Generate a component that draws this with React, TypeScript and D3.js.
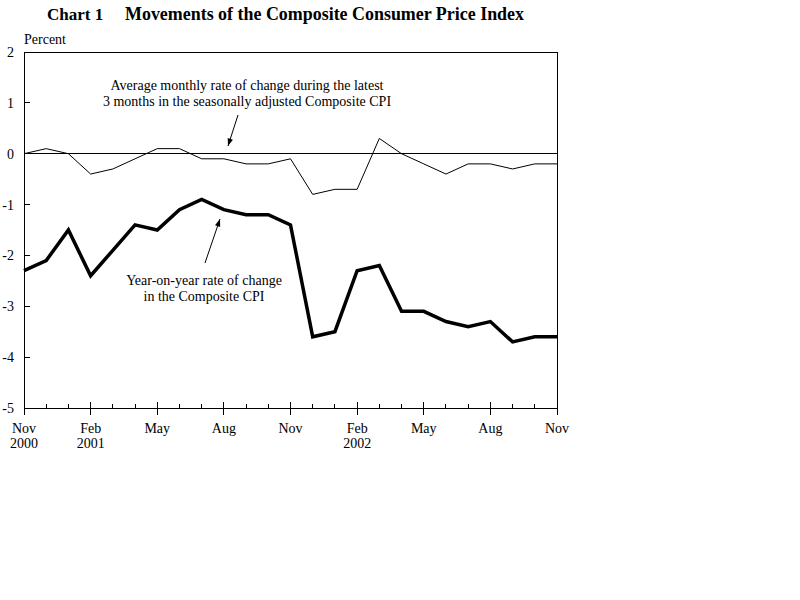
import React, { useEffect, useRef } from "react";
import * as d3 from "d3";

// monthly observations, Nov 2000 .. Nov 2002
const months = [
  "2000-11", "2000-12", "2001-01", "2001-02", "2001-03", "2001-04", "2001-05",
  "2001-06", "2001-07", "2001-08", "2001-09", "2001-10", "2001-11", "2001-12",
  "2002-01", "2002-02", "2002-03", "2002-04", "2002-05", "2002-06", "2002-07",
  "2002-08", "2002-09", "2002-10", "2002-11",
];

// year-on-year rate of change in the Composite CPI
const yoyChange = [
  -2.3, -2.1, -1.5, -2.4, -1.9, -1.4, -1.5, -1.1, -0.9, -1.1, -1.2, -1.2, -1.4,
  -3.6, -3.5, -2.3, -2.2, -3.1, -3.1, -3.3, -3.4, -3.3, -3.7, -3.6, -3.6,
];

// 3-month average monthly rate of change, seasonally adjusted
const avgMonthlyChange = [
  0.0, 0.1, 0.0, -0.4, -0.3, -0.1, 0.1, 0.1, -0.1, -0.1, -0.2, -0.2, -0.1,
  -0.8, -0.7, -0.7, 0.3, 0.0, -0.2, -0.4, -0.2, -0.2, -0.3, -0.2, -0.2,
];

const yTicks = [2, 1, 0, -1, -2, -3, -4, -5];
const xTickLabels = [
  ["Nov", "2000"], ["Feb", "2001"], ["May", ""], ["Aug", ""], ["Nov", ""],
  ["Feb", "2002"], ["May", ""], ["Aug", ""], ["Nov", ""],
];

const FONT = "'Liberation Serif', 'Times New Roman', serif";

export default function App() {
  const ref = useRef<SVGSVGElement>(null);

  useEffect(() => {
    const svg = d3.select(ref.current);
    svg.selectAll("*").remove();

    const left = 24, right = 557, top = 52, bottom = 408;

    const x = d3.scaleLinear().domain([0, months.length - 1]).range([left, right]);
    const y = d3.scaleLinear().domain([-5, 2]).range([bottom, top]);

    const title = svg.append("g")
      .attr("font-family", FONT)
      .attr("font-weight", "bold");
    title.append("text").attr("x", 47).attr("y", 20).attr("font-size", 17)
      .text("Chart 1");
    title.append("text").attr("x", 125).attr("y", 20).attr("font-size", 18)
      .attr("textLength", 399).attr("lengthAdjust", "spacingAndGlyphs")
      .text("Movements of the Composite Consumer Price Index");

    svg.append("text")
      .attr("x", 24)
      .attr("y", 44)
      .attr("font-family", FONT)
      .attr("font-size", 14)
      .text("Percent");

    // frame
    svg.append("rect")
      .attr("x", left)
      .attr("y", top)
      .attr("width", right - left)
      .attr("height", bottom - top)
      .attr("fill", "none")
      .attr("stroke", "#000")
      .attr("shape-rendering", "crispEdges");

    // zero line
    svg.append("line")
      .attr("x1", left)
      .attr("x2", right)
      .attr("y1", y(0))
      .attr("y2", y(0))
      .attr("stroke", "#000")
      .attr("shape-rendering", "crispEdges");

    // y ticks and labels
    const yg = svg.append("g");
    yg.selectAll("line")
      .data(yTicks)
      .join("line")
      .attr("x1", left)
      .attr("x2", left + 6)
      .attr("y1", d => y(d))
      .attr("y2", d => y(d))
      .attr("stroke", "#000")
      .attr("shape-rendering", "crispEdges");
    yg.selectAll("text")
      .data(yTicks)
      .join("text")
      .attr("x", 14)
      .attr("y", d => y(d) + 5)
      .attr("text-anchor", "end")
      .attr("font-family", FONT)
      .attr("font-size", 14)
      .text(d => String(d));

    // x ticks: minor every month, major every quarter
    const xg = svg.append("g");
    xg.selectAll("line")
      .data(months.map((_, i) => i))
      .join("line")
      .attr("x1", i => x(i))
      .attr("x2", i => x(i))
      .attr("y1", i => (i % 3 === 0 ? bottom - 6 : bottom - 4))
      .attr("y2", i => (i % 3 === 0 ? bottom + 7 : bottom))
      .attr("stroke", "#000")
      .attr("shape-rendering", "crispEdges");
    xg.selectAll("text.m")
      .data(xTickLabels)
      .join("text")
      .attr("class", "m")
      .attr("x", (_, i) => x(i * 3))
      .attr("y", bottom + 25)
      .attr("text-anchor", "middle")
      .attr("font-family", FONT)
      .attr("font-size", 14)
      .text(d => d[0]);
    xg.selectAll("text.yr")
      .data(xTickLabels)
      .join("text")
      .attr("class", "yr")
      .attr("x", (_, i) => x(i * 3))
      .attr("y", bottom + 40)
      .attr("text-anchor", "middle")
      .attr("font-family", FONT)
      .attr("font-size", 14)
      .text(d => d[1]);

    const line = d3.line<number>().x((_, i) => x(i)).y(d => y(d));

    svg.append("path")
      .datum(avgMonthlyChange)
      .attr("d", line)
      .attr("fill", "none")
      .attr("stroke", "#000")
      .attr("stroke-width", 1);

    svg.append("path")
      .datum(yoyChange)
      .attr("d", line)
      .attr("fill", "none")
      .attr("stroke", "#000")
      .attr("stroke-width", 3.5)
      .attr("stroke-linejoin", "miter");

    // annotations
    const notes = [
      { cx: 247, y: 90, lines: ["Average monthly rate of change during the latest", "3 months in the seasonally adjusted Composite CPI"] },
      { cx: 204, y: 285, lines: ["Year-on-year rate of change", "in the Composite CPI"] },
    ];
    notes.forEach(n => {
      n.lines.forEach((t, k) => {
        svg.append("text")
          .attr("x", n.cx)
          .attr("y", n.y + k * 16)
          .attr("text-anchor", "middle")
          .attr("font-family", FONT)
          .attr("font-size", 14)
          .text(t);
      });
    });

    const arrow = (x1: number, y1: number, x2: number, y2: number) => {
      svg.append("line")
        .attr("x1", x1).attr("y1", y1).attr("x2", x2).attr("y2", y2)
        .attr("stroke", "#000");
      const a = Math.atan2(y2 - y1, x2 - x1);
      const len = 8, spread = 0.35;
      const p1 = [x2 - len * Math.cos(a - spread), y2 - len * Math.sin(a - spread)];
      const p2 = [x2 - len * Math.cos(a + spread), y2 - len * Math.sin(a + spread)];
      svg.append("path")
        .attr("d", `M${x2},${y2}L${p1[0]},${p1[1]}L${p2[0]},${p2[1]}Z`)
        .attr("fill", "#000");
    };
    arrow(238, 115, 228, 146);
    arrow(205, 263, 220, 219);
  }, []);

  return (
    <svg ref={ref} width={800} height={600} style={{ position: "absolute", left: 0, top: 0 }} />
  );
}
